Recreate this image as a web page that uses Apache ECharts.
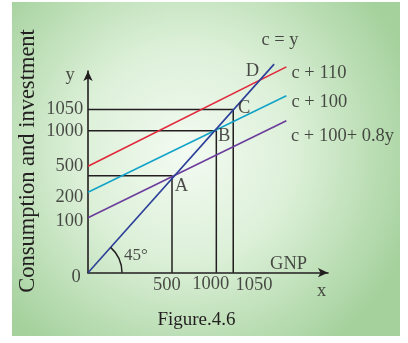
<!DOCTYPE html>
<html>
<head>
<meta charset="utf-8">
<script src="https://cdn.jsdelivr.net/npm/echarts@6/dist/echarts.min.js"></script>
<style>
  html, body { margin: 0; padding: 0; background: #ffffff; }
  #chart { width: 408px; height: 343px; }
</style>
</head>
<body>
<div id="chart"></div>
<script>
// Schematic income–expenditure diagram (drawn in diagram units, not to scale)

// Axis tick captions
const xTickText = ['500', '1000', '1050'];
const xTickAt = [32.2, 50.1, 67.8];
const yTickText = ['1050', '1000', '500', '200', '100'];
const yTickAt = [59.6, 51.7, 39.0, 27.7, 18.8];

// Equilibrium points where each expenditure line meets c = y
const pointNames = ['A', 'B', 'C'];
const pointX = [34.3, 52.4, 59.3];
const pointY = [35.3, 51.7, 59.5];

// Straight lines: [x0, y0, x1, y1]
const lineNames = ['c = y', 'c + 110', 'c + 100', 'c + 100+ 0.8y'];
const lineEnds = [
  [0, 0, 76, 76],
  [0, 38.8, 81, 75.0],
  [0, 29.3, 81, 64.5],
  [0, 20.0, 81, 55.4]
];
const lineColors = ['#2b3e98', '#e2273a', '#12a3c9', '#6b3d9c'];

const INK = '#231f20';
const SERIF = '"Liberation Serif", "DejaVu Serif", serif';

const chart = echarts.init(document.getElementById('chart'), null, { renderer: 'canvas' });

function textSeries(items, align, size) {
  return {
    type: 'scatter',
    silent: true,
    clip: false,
    symbolSize: 0,
    z: 6,
    data: items,
    label: {
      show: true,
      position: 'inside',
      formatter: p => p.value[2],
      color: INK,
      fontFamily: SERIF,
      fontSize: size || 18.5,
      align: align,
      verticalAlign: 'middle'
    }
  };
}

const series = [];

// Guide lines dropping from each equilibrium point to both axes
pointNames.forEach((n, i) => {
  series.push({
    type: 'line',
    silent: true,
    symbol: 'none',
    z: 2,
    lineStyle: { color: INK, width: 1.5 },
    data: [[0, pointY[i]], [pointX[i], pointY[i]], [pointX[i], 0]]
  });
});

// Expenditure lines and the 45° line
lineEnds.forEach((e, i) => {
  series.push({
    type: 'line',
    name: lineNames[i],
    silent: true,
    symbol: 'none',
    clip: false,
    z: i === 0 ? 4 : 3,
    lineStyle: { color: lineColors[i], width: 1.6 },
    data: [[e[0], e[1]], [e[2], e[3]]]
  });
});

// 45° angle arc at the origin
series.push({
  type: 'custom',
  silent: true,
  z: 5,
  data: [[0, 0]],
  renderItem: function (params, api) {
    const c = api.coord([0, 0]);
    const p = api.coord([lineEnds[0][2], lineEnds[0][3]]);
    const ang = Math.atan2(p[1] - c[1], p[0] - c[0]);
    return {
      type: 'arc',
      shape: { cx: c[0], cy: c[1], r: 34, startAngle: ang, endAngle: 0, clockwise: true },
      style: { stroke: INK, lineWidth: 1.5, fill: null }
    };
  }
});

// Tick captions
series.push(textSeries(xTickText.map((t, i) => [xTickAt[i], i === 1 ? -4.0 : -4.6, t]), 'center'));
series.push(textSeries(yTickText.map((t, i) => [-1.9, yTickAt[i], t]), 'right'));
series.push(textSeries([[-4.9, -1.7, '0']], 'center'));

// Point letters
const letterPos = [[38.1, 31.7], [55.6, 49.6], [63.8, 59.9]];
series.push(textSeries(pointNames.map((n, i) => [letterPos[i][0], letterPos[i][1], n]), 'center'));
series.push(textSeries([[67.1, 73.3, 'D']], 'center'));

// Line captions
const captionPos = [[70.8, 84.8], [83.1, 72.9], [83.1, 62.3], [82.9, 49.6]];
series.push(textSeries(lineNames.map((n, i) => [captionPos[i][0], captionPos[i][1], n]), 'left'));

// Angle, axis names
series.push(textSeries([[19.6, 6.1, '45°']], 'center', 17));
series.push(textSeries([[81.9, 3.2, 'GNP'], [95.4, -6.9, 'x'], [-7.3, 72.0, 'y']], 'center'));

chart.setOption({
  backgroundColor: '#ffffff',
  animation: false,
  graphic: [
    {
      type: 'rect',
      z: -10,
      silent: true,
      shape: { x: 12, y: 2, width: 388, height: 334 },
      style: {
        fill: new echarts.graphic.RadialGradient(0.45, 0.45, 0.72, [
          { offset: 0, color: '#f3fbf2' },
          { offset: 0.45, color: '#dcf0d8' },
          { offset: 1, color: '#a4d19c' }
        ])
      }
    },
    {
      type: 'text',
      silent: true,
      x: 28,
      y: 161,
      rotation: Math.PI / 2,
      style: {
        text: 'Consumption and investment',
        fill: INK,
        font: '22.5px ' + SERIF,
        textAlign: 'center',
        textVerticalAlign: 'middle'
      }
    },
    {
      type: 'text',
      silent: true,
      x: 196.5,
      y: 320.5,
      style: {
        text: 'Figure.4.6',
        fill: INK,
        font: '19px ' + SERIF,
        textAlign: 'center',
        textVerticalAlign: 'middle'
      }
    }
  ],
  grid: { left: 88, top: 71, width: 240, height: 201.7, containLabel: false },
  xAxis: {
    type: 'value',
    min: 0,
    max: 98,
    splitLine: { show: false },
    axisTick: { show: false },
    axisLabel: { show: false },
    axisLine: { show: true, symbol: ['none', 'arrow'], symbolSize: [7, 10], lineStyle: { color: INK, width: 1.6 } }
  },
  yAxis: {
    type: 'value',
    min: 0,
    max: 73.5,
    splitLine: { show: false },
    axisTick: { show: false },
    axisLabel: { show: false },
    axisLine: { show: true, symbol: ['none', 'arrow'], symbolSize: [7, 10], lineStyle: { color: INK, width: 1.6 } }
  },
  series: series
});
</script>
</body>
</html>
